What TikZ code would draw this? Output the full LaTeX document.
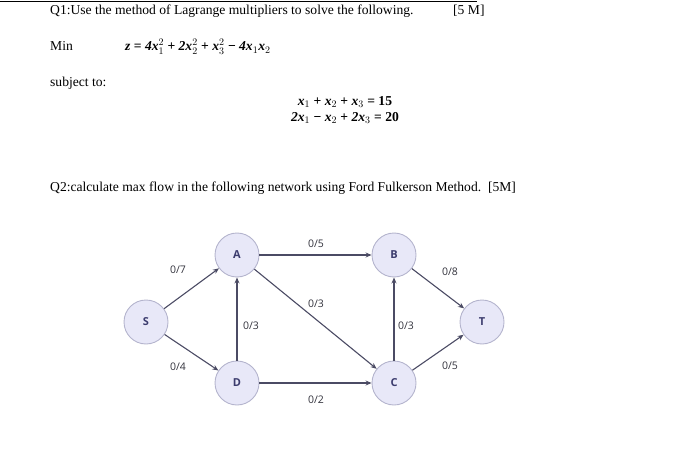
\documentclass[tikz,border=0pt]{standalone}
\usepackage{fontspec}
\usetikzlibrary{arrows.meta}
\setmainfont{Liberation Serif}
\setsansfont{Open Sans}
\begin{document}
\begin{tikzpicture}[x=1pt,y=-1pt,
  nd/.style={circle,minimum size=44pt,inner sep=0pt,fill={rgb,255:red,232;green,232;blue,248},draw={rgb,255:red,180;green,180;blue,205},line width=0.9pt,text={rgb,255:red,60;green,60;blue,110},font=\sffamily\bfseries\fontsize{11}{13}\selectfont},
  ed/.style={draw={rgb,255:red,75;green,75;blue,100},line width=1.1pt,-{Stealth[length=6pt,width=5pt]}},
  lb/.style={font=\sffamily\fontsize{10.5}{12}\selectfont,text={rgb,255:red,50;green,50;blue,60}},
  tx/.style={anchor=base west,font=\fontsize{13.6}{16}\selectfont,inner sep=0pt}]
\useasboundingbox (0,0) rectangle (700,454);
\coordinate (l1) at (0,1); \coordinate (l2) at (477,1);
\draw[line width=0.8pt] (l1) -- (l2);
\node[tx] (q1) at (50,15) {Q1:Use the method of Lagrange multipliers to solve the following.};
\node[tx] (m5) at (453,15) {[5 M]};
\node[tx] (min) at (50,51) {Min};
\node[tx] (z) at (125,51) {\bfseries\itshape z \upshape=\itshape\ 4x$^{2}_{1}$ \upshape+\itshape\ 2x$^{2}_{2}$ \upshape+\itshape\ x$^{2}_{3}$ \upshape−\itshape\ 4x$_{1}$x$_{2}$};
\node[tx] (st) at (50,87) {subject to:};
\node[font=\fontsize{13.6}{16}\selectfont\bfseries\itshape,align=center,inner sep=0pt] (c1) at (345,102) {x$_1$ \upshape+\itshape\ x$_2$ \upshape+\itshape\ x$_3$ \upshape= 15};
\node[font=\fontsize{13.6}{16}\selectfont\bfseries\itshape,align=center,inner sep=0pt] (c2) at (345,118) {2x$_1$ \upshape−\itshape\ x$_2$ \upshape+\itshape\ 2x$_3$ \upshape= 20};
\node[tx] (q2) at (50,192) {Q2:calculate max flow in the following network using Ford Fulkerson Method.\ \ [5M]};
\node[nd] (S) at (146,322) {S};
\node[nd] (A) at (237,255) {A};
\node[nd] (B) at (394,255) {B};
\node[nd] (C) at (394,383) {C};
\node[nd] (D) at (237,383) {D};
\node[nd] (T) at (482,322) {T};
\draw[ed] (S) -- (A);
\draw[ed] (S) -- (D);
\draw[ed] (A) -- (B);
\draw[ed] (A) -- (C);
\draw[ed] (D) -- (A);
\draw[ed] (D) -- (C);
\draw[ed] (C) -- (B);
\draw[ed] (B) -- (T);
\draw[ed] (C) -- (T);
\node[lb] (l1a) at (178,270) {0/7};
\node[lb] (l2a) at (178,367) {0/4};
\node[lb] (l3a) at (316,244) {0/5};
\node[lb] (l4a) at (316,304) {0/3};
\node[lb] (l5a) at (251,326) {0/3};
\node[lb] (l6a) at (406,326) {0/3};
\node[lb] (l7a) at (316,400) {0/2};
\node[lb] (l8a) at (450,272) {0/8};
\node[lb] (l9a) at (450,366) {0/5};
\end{tikzpicture}
\end{document}
